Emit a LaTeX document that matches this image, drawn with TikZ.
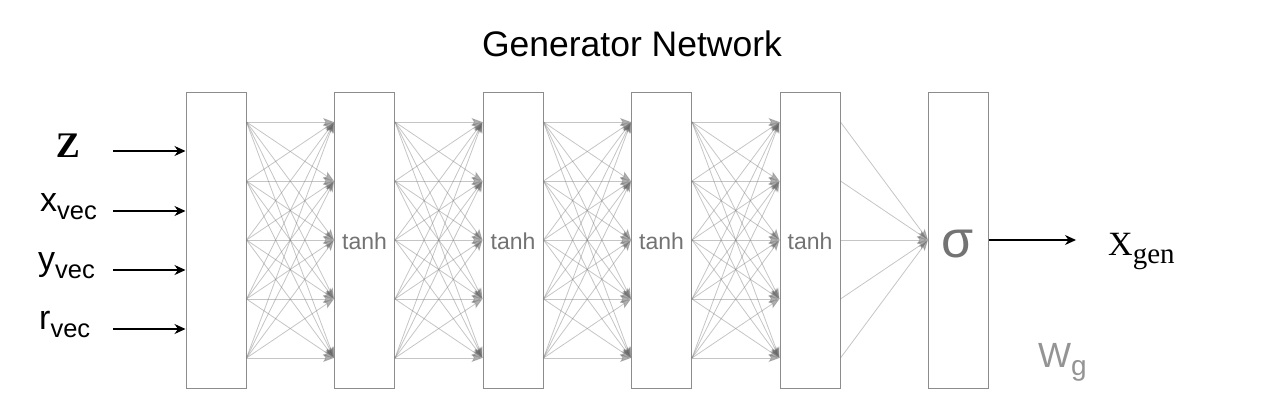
\documentclass[tikz,border=0pt]{standalone}
\usepackage{fontspec}
\setmainfont{Liberation Serif}
\setsansfont{Liberation Sans}
\usetikzlibrary{arrows.meta,calc}
\definecolor{boxgray}{gray}{0.55}
\definecolor{txtgray}{gray}{0.45}
\definecolor{wgray}{gray}{0.58}
\begin{document}
\begin{tikzpicture}[x=1pt,y=-1pt,
  layer/.style={draw=boxgray, line width=1pt, minimum width=60pt, minimum height=296pt, inner sep=0pt, fill=white},
  mesh/.style={draw=black!50, opacity=0.45, line width=0.8pt, -{Stealth[length=11pt,width=8pt,inset=2.5pt,fill=black!70]}},
  inarrow/.style={draw=black, line width=1.1pt, -{Stealth[length=11pt,width=10pt,inset=3.5pt]}},
  tanhlbl/.style={font=\sffamily\fontsize{23}{23}\selectfont, text=txtgray, inner sep=0pt},
  lbl/.style={inner sep=0pt, anchor=base west}
]
\useasboundingbox (0,0) rectangle (1264,420);
\fill[white] (0,0) rectangle (1264,420);

\node[font=\sffamily\fontsize{35.5}{35.5}\selectfont, anchor=base, inner sep=0pt] (title) at (632,57) {Generator Network};

\foreach \i/\x in {1/216,2/364.5,3/513,4/661.5,5/810,6/958.5}
  \node[layer] (L\i) at (\x,240) {};

\foreach \i in {1,...,6}
  \foreach \k in {1,...,5} {
    \coordinate (L\i-o\k) at ($(L\i.east)+(0,{(\k-3)*59})$);
    \coordinate (L\i-i\k) at ($(L\i.west)+(0,{(\k-3)*59})$);
  }

\foreach \i in {1,...,4} {
  \pgfmathtruncatemacro\j{\i+1}
  \foreach \a in {1,...,5}
    \foreach \b in {1,...,5}
      \draw[mesh] (L\i-o\a) -- (L\j-i\b);
}
\foreach \a in {1,...,5}
  \draw[mesh] (L5-o\a) -- (L6.west);

\foreach \i in {2,...,5}
  \node[tanhlbl] (t\i) at ($(L\i.center)+(0,1)$) {tanh};

\node[font=\sffamily\fontsize{52}{52}\selectfont, text=txtgray, anchor=base, inner sep=0pt] (sig) at (958,257) {σ};

% inputs
\coordinate (inz) at (113,151);
\coordinate (inx) at (113,211);
\coordinate (iny) at (113,270);
\coordinate (inr) at (113,329);
\foreach \n in {z,x,y,r}
  \draw[inarrow] (in\n) -- (in\n -| L1.west);

\node[inner sep=0pt, anchor=base, font=\bfseries\fontsize{36}{36}\selectfont] (lz) at (68,157) {Z};
\node[lbl, font=\sffamily] (lx) at (40,211) {\fontsize{34}{34}\selectfont x\raisebox{-8pt}{\fontsize{25.5}{25.5}\selectfont vec}};
\node[lbl, font=\sffamily] (ly) at (38,270) {\fontsize{34}{34}\selectfont y\raisebox{-8pt}{\fontsize{25.5}{25.5}\selectfont vec}};
\node[lbl, font=\sffamily] (lr) at (39,329) {\fontsize{34}{34}\selectfont r\raisebox{-8pt}{\fontsize{25.5}{25.5}\selectfont vec}};

% output
\coordinate (outend) at (1076,240);
\draw[inarrow] (L6.east) -- (outend);
\node[lbl] (lxg) at (1108,255) {\fontsize{34}{34}\selectfont X\raisebox{-8pt}{\fontsize{29}{29}\selectfont gen}};

\node[lbl, font=\sffamily, text=wgray] (wg) at (1038,367) {\fontsize{35}{35}\selectfont W\raisebox{-8pt}{\fontsize{28}{28}\selectfont g}};
\end{tikzpicture}
\end{document}
